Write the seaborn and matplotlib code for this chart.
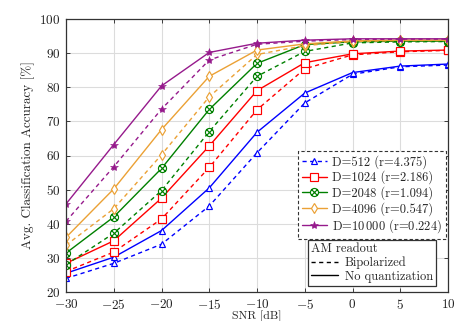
import numpy as np
import pandas as pd
import matplotlib
matplotlib.use("Agg")
import matplotlib.pyplot as plt
from matplotlib.path import Path
from matplotlib.lines import Line2D
import seaborn as sns

snr = [-30, -25, -20, -15, -10, -5, 0, 5, 10]

d512_noq = [25.5, 30.2, 38.0, 50.5, 66.8, 78.3, 84.3, 86.2, 86.8]
d512_bip = [24.0, 28.4, 34.0, 45.2, 60.8, 75.4, 83.8, 86.0, 86.5]
d1024_noq = [28.4, 35.0, 47.5, 62.8, 79.0, 87.2, 89.8, 90.6, 90.9]
d1024_bip = [26.0, 31.7, 41.4, 56.5, 73.4, 85.4, 89.5, 90.4, 90.8]
d2048_noq = [31.4, 42.0, 56.2, 73.5, 87.0, 92.5, 93.3, 93.5, 93.5]
d2048_bip = [28.0, 37.2, 49.7, 67.0, 83.2, 90.5, 93.0, 93.3, 93.4]
d4096_noq = [36.0, 50.2, 67.6, 83.2, 90.9, 92.7, 93.6, 93.8, 93.8]
d4096_bip = [33.7, 44.4, 60.2, 77.2, 89.6, 92.2, 93.4, 93.7, 93.7]
d10000_noq = [45.8, 63.2, 80.4, 90.2, 92.9, 93.8, 94.2, 94.2, 94.2]
d10000_bip = [40.7, 56.7, 73.6, 88.0, 92.6, 93.5, 94.0, 94.1, 94.1]

labels = ["D=512 (r=4.375)", "D=1024 (r=2.186)", "D=2048 (r=1.094)",
          "D=4096 (r=0.547)", r"D=10$\,$000 (r=0.224)"]
xticks = [-30, -25, -20, -15, -10, -5, 0, 5, 10]
yticks = [20, 30, 40, 50, 60, 70, 80, 90, 100]

sns.set_style("whitegrid")
plt.rcParams["font.family"] = ["cmr10", "DejaVu Serif"]
plt.rcParams["mathtext.fontset"] = "cm"
plt.rcParams["axes.formatter.use_mathtext"] = True
plt.rcParams["axes.unicode_minus"] = True

otimes = Path.make_compound_path(
    Path.unit_circle(),
    Path([(-0.707, -0.707), (0.707, 0.707)], [Path.MOVETO, Path.LINETO]),
    Path([(-0.707, 0.707), (0.707, -0.707)], [Path.MOVETO, Path.LINETO]),
)

series = [
    (d512_noq, d512_bip, "#0000ff", "^", 5.0),
    (d1024_noq, d1024_bip, "#ff0000", "s", 6.0),
    (d2048_noq, d2048_bip, "#008000", otimes, 5.8),
    (d4096_noq, d4096_bip, "#eba135", "d", 5.3),
    (d10000_noq, d10000_bip, "#961a8c", "*", 6.0),
]

fig = plt.figure(figsize=(4.74, 3.21), dpi=100)
ax = fig.add_axes([66 / 474, 1 - 292 / 321, 382 / 474, 273 / 321])

handles = []
for i, (noq, bip, col, mk, ms) in enumerate(series):
    df = pd.DataFrame({"snr": snr, "noq": noq, "bip": bip})
    common = dict(color=col, marker=mk, markersize=ms, markeredgecolor=col,
                  markerfacecolor="white", markeredgewidth=0.85, linewidth=1.0)
    if mk == "*":
        common["markerfacecolor"] = col
        common["markeredgewidth"] = 0.4
    sns.lineplot(data=df, x="snr", y="bip", ax=ax, linestyle=(0, (3, 2.5)), **common)
    l_bip = ax.lines[-1]
    sns.lineplot(data=df, x="snr", y="noq", ax=ax, linestyle="-", **common)
    l_noq = ax.lines[-1]
    handles.append(l_bip if i == 0 else l_noq)

ax.set_xlim(-30, 10)
ax.set_ylim(20, 100)
ax.set_xticks(xticks)
ax.set_yticks(yticks)
ax.grid(True, color="#dcdcdc", linewidth=0.8)
for s in ax.spines.values():
    s.set_color("#333333")
    s.set_linewidth(0.9)
    s.set_visible(True)
ax.tick_params(direction="in", length=3, width=0.6, labelsize=9.5, colors="#222222",
               top=True, right=True, bottom=True, left=True)
ax.tick_params(axis="x", pad=4)
ax.tick_params(axis="y", pad=4)
ax.set_xlabel("SNR [dB]", fontsize=8.5, labelpad=-0.5)
ax.set_ylabel("Avg. Classification Accuracy [%]", fontsize=9.5, labelpad=3)

leg1 = ax.legend(handles, labels, loc="upper center", bbox_to_anchor=(0.801, 0.516),
                 fontsize=9, frameon=True, fancybox=False, edgecolor="#333333",
                 handlelength=2.0, handletextpad=0.4, labelspacing=0.15,
                 borderpad=0.3, borderaxespad=0)
leg1.get_frame().set_linestyle((0, (3, 2)))
leg1.get_frame().set_linewidth(0.8)
leg1.get_frame().set_alpha(1)
ax.add_artist(leg1)

h2 = [Line2D([], [], color="black", linestyle=(0, (3, 2.5)), linewidth=1.0),
      Line2D([], [], color="black", linestyle="-", linewidth=1.0)]
leg2 = ax.legend(h2, ["Bipolarized", "No quantization"], title="AM readout",
                 loc="upper center", bbox_to_anchor=(0.801, 0.19), fontsize=9,
                 title_fontsize=9, frameon=True, fancybox=False, edgecolor="#333333",
                 handlelength=2.2, handletextpad=0.5, labelspacing=0.1,
                 borderpad=0.25, borderaxespad=0, alignment="left")
leg2.get_frame().set_linewidth(0.9)
leg2.get_frame().set_alpha(1)

fig.savefig("out.png", dpi=100)
